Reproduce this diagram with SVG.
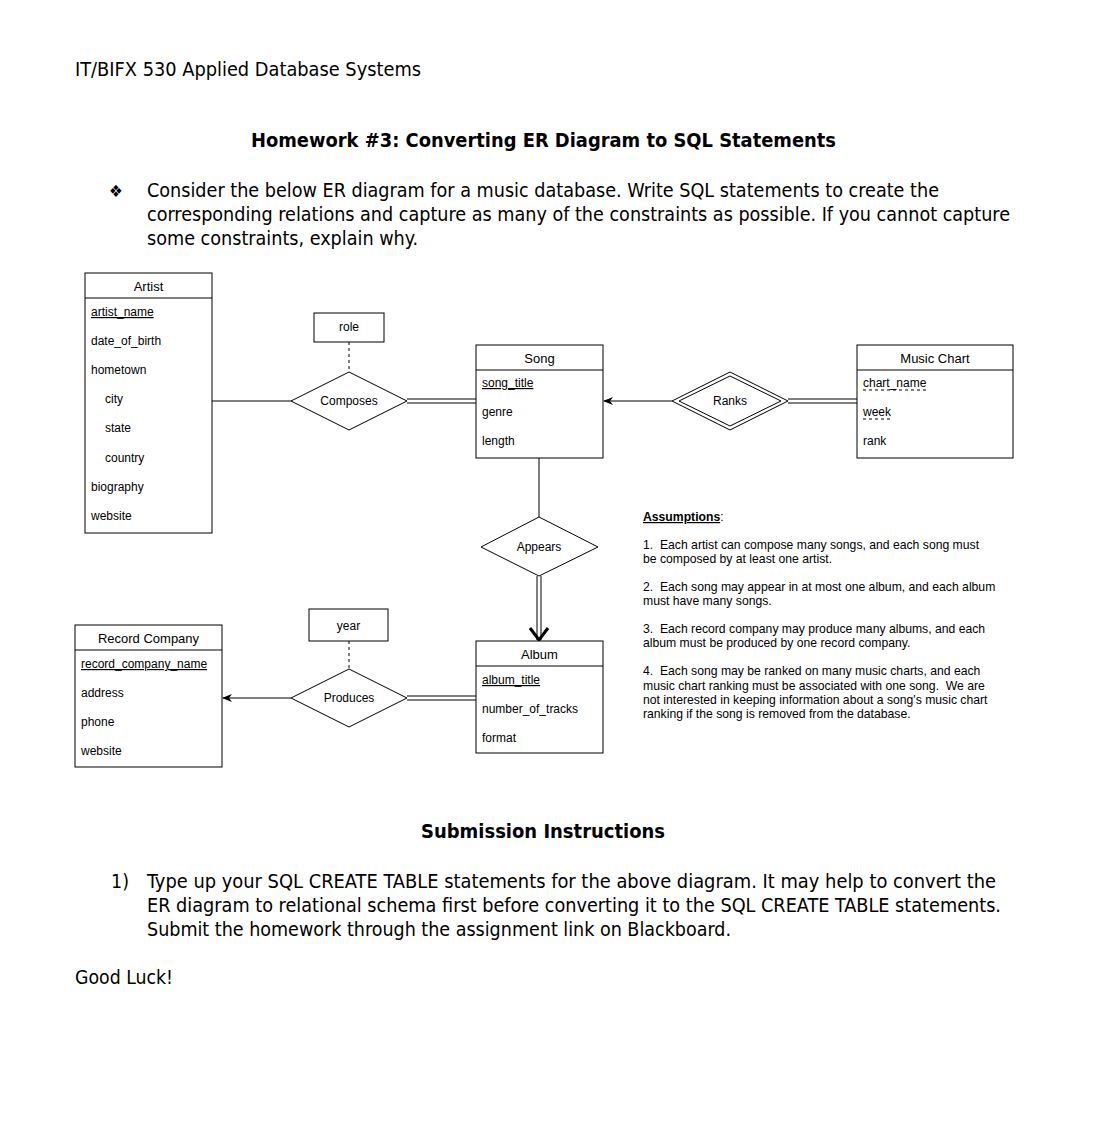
<svg xmlns="http://www.w3.org/2000/svg" width="1093" height="1129" viewBox="0 0 1093 1129">
<defs>
<style>
.doc{font-family:"DejaVu Sans Condensed","DejaVu Sans","Liberation Sans",sans-serif;fill:#000;}
.er{font-family:"Liberation Sans",Arial,sans-serif;font-size:12px;fill:#000;}
.hd{font-family:"Liberation Sans",Arial,sans-serif;font-size:13px;fill:#000;}
.box{fill:#fff;stroke:#000;stroke-width:1;}
.sep{stroke:#000;stroke-width:1;}
.ln{stroke:#000;stroke-width:1;fill:none;}
.dash{stroke:#000;stroke-width:1;stroke-dasharray:3 3;fill:none;}
.asm{font-family:"Liberation Sans",Arial,sans-serif;font-size:12.2px;fill:#000;white-space:pre;}
</style>
<marker id="arr" viewBox="0 0 10 10" refX="9" refY="5" markerWidth="10" markerHeight="10" markerUnits="userSpaceOnUse" orient="auto">
<path d="M0,1 L10,5 L0,9 L3,5 Z" fill="#000"/>
</marker>
</defs>
<rect width="1093" height="1129" fill="#fff"/>

<g id="page-text">
<text class="doc" x="75" y="76" font-size="19" textLength="346" lengthAdjust="spacingAndGlyphs">IT/BIFX 530 Applied Database Systems</text>
<text class="doc" x="251" y="147" font-size="19" font-weight="bold" textLength="585" lengthAdjust="spacingAndGlyphs">Homework #3: Converting ER Diagram to SQL Statements</text>
<text class="doc" x="109" y="197" font-size="17" fill="#333">❖</text>
<text class="doc" x="147" y="197" font-size="19.5" textLength="792" lengthAdjust="spacingAndGlyphs">Consider the below ER diagram for a music database. Write SQL statements to create the</text>
<text class="doc" x="147" y="221" font-size="19.5" textLength="863" lengthAdjust="spacingAndGlyphs">corresponding relations and capture as many of the constraints as possible. If you cannot capture</text>
<text class="doc" x="147" y="245" font-size="19.5" textLength="271" lengthAdjust="spacingAndGlyphs">some constraints, explain why.</text>
<text class="doc" x="421" y="838" font-size="19" font-weight="bold" textLength="244" lengthAdjust="spacingAndGlyphs">Submission Instructions</text>
<text class="doc" x="111" y="888" font-size="19.5">1)</text>
<text class="doc" x="147" y="888" font-size="19.5" textLength="849" lengthAdjust="spacingAndGlyphs">Type up your SQL CREATE TABLE statements for the above diagram. It may help to convert the</text>
<text class="doc" x="147" y="912" font-size="19.5" textLength="854" lengthAdjust="spacingAndGlyphs">ER diagram to relational schema first before converting it to the SQL CREATE TABLE statements.</text>
<text class="doc" x="147" y="936" font-size="19.5" textLength="584" lengthAdjust="spacingAndGlyphs">Submit the homework through the assignment link on Blackboard.</text>
<text class="doc" x="75" y="984" font-size="19.5" textLength="98" lengthAdjust="spacingAndGlyphs">Good Luck!</text>
</g>

<g id="connectors">
<line class="ln" x1="212" y1="401" x2="291" y2="401"/>
<line class="ln" x1="407" y1="399" x2="476" y2="399"/>
<line class="ln" x1="407" y1="403" x2="476" y2="403"/>
<line class="dash" x1="349" y1="342" x2="349" y2="372"/>
<line class="ln" x1="672" y1="401" x2="604" y2="401" marker-end="url(#arr)"/>
<line class="ln" x1="788" y1="399" x2="857" y2="399"/>
<line class="ln" x1="788" y1="403" x2="857" y2="403"/>
<line class="ln" x1="539" y1="458" x2="539" y2="517"/>
<line class="ln" x1="537" y1="576" x2="537" y2="640"/>
<line class="ln" x1="541" y1="576" x2="541" y2="640"/>
<path d="M530,628 L539,640 L548,628" fill="none" stroke="#000" stroke-width="3"/>
<line class="dash" x1="349" y1="641" x2="349" y2="669"/>
<line class="ln" x1="291" y1="698" x2="223" y2="698" marker-end="url(#arr)"/>
<line class="ln" x1="407" y1="696" x2="476" y2="696"/>
<line class="ln" x1="407" y1="700" x2="476" y2="700"/>
</g>

<g id="artist">
<rect class="box" x="85" y="273" width="127" height="260"/>
<line class="sep" x1="85" y1="298" x2="212" y2="298"/>
<text class="hd" x="148.5" y="291" text-anchor="middle">Artist</text>
<text class="er" x="91" y="316" text-decoration="underline">artist_name</text>
<text class="er" x="91" y="345">date_of_birth</text>
<text class="er" x="91" y="374">hometown</text>
<text class="er" x="105" y="403">city</text>
<text class="er" x="105" y="432">state</text>
<text class="er" x="105" y="462">country</text>
<text class="er" x="91" y="491">biography</text>
<text class="er" x="91" y="520">website</text>
</g>

<g id="role">
<rect class="box" x="314" y="313" width="70" height="29"/>
<text class="er" x="349" y="331" text-anchor="middle">role</text>
</g>

<g id="composes">
<polygon class="box" points="291,401 349,372 407,401 349,430"/>
<text class="er" x="349" y="405" text-anchor="middle">Composes</text>
</g>

<g id="song">
<rect class="box" x="476" y="345" width="127" height="113"/>
<line class="sep" x1="476" y1="370" x2="603" y2="370"/>
<text class="hd" x="539.5" y="363" text-anchor="middle">Song</text>
<text class="er" x="482" y="387" text-decoration="underline">song_title</text>
<text class="er" x="482" y="416">genre</text>
<text class="er" x="482" y="445">length</text>
</g>

<g id="ranks">
<polygon class="box" points="672,401 730,372 788,401 730,430"/>
<polygon class="ln" points="679,401 730,376 781,401 730,426"/>
<text class="er" x="730" y="405" text-anchor="middle">Ranks</text>
</g>

<g id="music-chart">
<rect class="box" x="857" y="345" width="156" height="113"/>
<line class="sep" x1="857" y1="370" x2="1013" y2="370"/>
<text class="hd" x="935" y="363" text-anchor="middle">Music Chart</text>
<text class="er" x="863" y="387">chart_name</text>
<line class="dash" x1="863" y1="390" x2="927" y2="390" stroke-dasharray="3 2"/>
<text class="er" x="863" y="416">week</text>
<line class="dash" x1="863" y1="419" x2="892" y2="419" stroke-dasharray="3 2"/>
<text class="er" x="863" y="445">rank</text>
</g>

<g id="appears">
<polygon class="box" points="481,547 539,517 598,547 539,576"/>
<text class="er" x="539" y="551" text-anchor="middle">Appears</text>
</g>

<g id="album">
<rect class="box" x="476" y="641" width="127" height="112"/>
<line class="sep" x1="476" y1="666" x2="603" y2="666"/>
<text class="hd" x="539.5" y="659" text-anchor="middle">Album</text>
<text class="er" x="482" y="684" text-decoration="underline">album_title</text>
<text class="er" x="482" y="713">number_of_tracks</text>
<text class="er" x="482" y="742">format</text>
</g>

<g id="year">
<rect class="box" x="309" y="609" width="79" height="32"/>
<text class="er" x="348.5" y="630" text-anchor="middle">year</text>
</g>

<g id="produces">
<polygon class="box" points="291,698 349,669 407,698 349,727"/>
<text class="er" x="349" y="702" text-anchor="middle">Produces</text>
</g>

<g id="record-company">
<rect class="box" x="75" y="625" width="147" height="142"/>
<line class="sep" x1="75" y1="650" x2="222" y2="650"/>
<text class="hd" x="148.5" y="643" text-anchor="middle">Record Company</text>
<text class="er" x="81" y="668" text-decoration="underline">record_company_name</text>
<text class="er" x="81" y="697">address</text>
<text class="er" x="81" y="726">phone</text>
<text class="er" x="81" y="755">website</text>
</g>

<g id="assumptions">
<text class="asm" x="643" y="521"><tspan font-weight="bold" text-decoration="underline">Assumptions</tspan>:</text>
<text class="asm" x="643" y="549">1.  Each artist can compose many songs, and each song must</text>
<text class="asm" x="643" y="563">be composed by at least one artist.</text>
<text class="asm" x="643" y="591">2.  Each song may appear in at most one album, and each album</text>
<text class="asm" x="643" y="605">must have many songs.</text>
<text class="asm" x="643" y="633">3.  Each record company may produce many albums, and each</text>
<text class="asm" x="643" y="647">album must be produced by one record company.</text>
<text class="asm" x="643" y="675">4.  Each song may be ranked on many music charts, and each</text>
<text class="asm" x="643" y="690">music chart ranking must be associated with one song.  We are</text>
<text class="asm" x="643" y="704">not interested in keeping information about a song's music chart</text>
<text class="asm" x="643" y="718">ranking if the song is removed from the database.</text>
</g>
</svg>
